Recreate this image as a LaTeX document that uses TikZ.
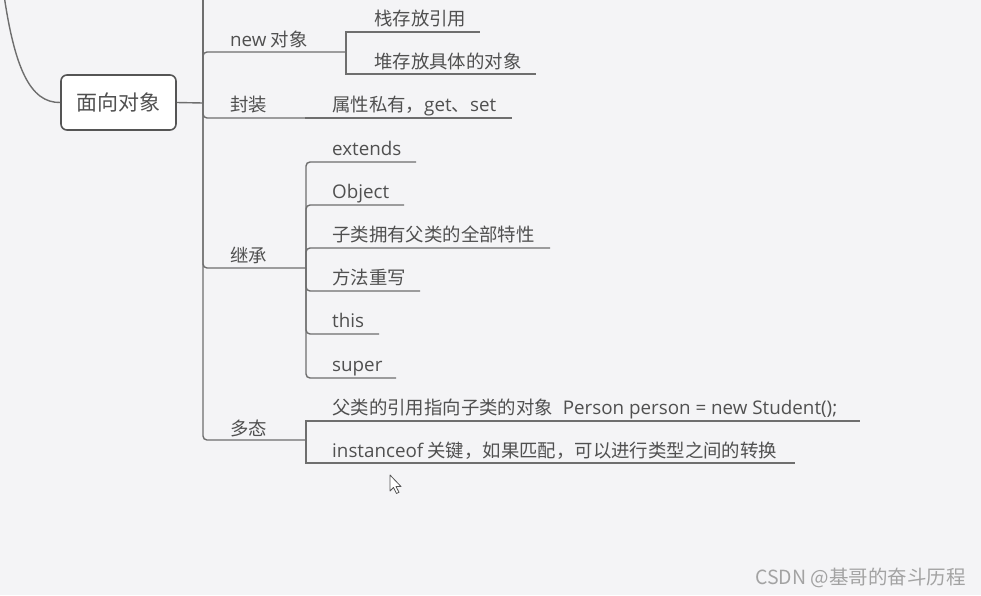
\documentclass[tikz,border=0pt]{standalone}
\usepackage{fontspec}
\setmainfont{Noto Sans CJK SC}
\newfontfamily\latf{Open Sans}
\newcommand{\lt}[1]{{\latf\fontsize{18.8}{20}\selectfont #1}}
\definecolor{bgc}{HTML}{F4F4F6}
\definecolor{linec}{HTML}{6E6E6E}
\definecolor{boxc}{HTML}{555555}
\definecolor{txtc}{HTML}{505050}
\definecolor{wmc}{HTML}{A3A3A3}
\begin{document}
\begin{tikzpicture}[x=1pt,y=-1pt,
  conn/.style={draw=linec, line width=1.4pt, rounded corners=4pt},
  sharpconn/.style={draw=linec, line width=1.4pt},
  lbl/.style={anchor=base west, inner sep=0pt, text=txtc, font=\fontsize{18.4}{20}\selectfont},
  rootbox/.style={draw=boxc, line width=1.6pt, fill=white, rounded corners=6pt,
    minimum width=115pt, minimum height=55pt, font=\fontsize{21}{24}\selectfont,
    text=txtc, inner sep=0pt},
  wm/.style={anchor=base west, inner sep=0pt, text=wmc, font=\fontsize{19.5}{21}\selectfont}]
\fill[bgc] (0,0) rectangle (981,595);
\useasboundingbox (0,0) rectangle (981,595);
\clip (0,0) rectangle (981,595);

% root
\node[rootbox] (root) at (118.5,102.5) {面向对象};
\coordinate (inc) at (3,-12);
\coordinate (J0) at (203,103);
\coordinate (up) at (203,-10);
\draw[sharpconn] (inc) .. controls (14,68) and (30,103) .. (root.west);
\draw[sharpconn] (root.east) -- (J0);
\draw[sharpconn] (J0) -- (up);

% new 对象
\node[lbl] (n1) at (230,46) {\lt{new} 对象};
\coordinate (n1e) at (346,52);
\draw[conn] (J0) |- (n1e);
\node[lbl] (c11) at (374,25) {栈存放引用};
\node[lbl] (c12) at (374,68) {堆存放具体的对象};
\coordinate (c11e) at (480,32);
\coordinate (c12e) at (536,74);
\draw[sharpconn] (n1e) |- (c11e);
\draw[sharpconn] (n1e) |- (c12e);

% 封装
\node[lbl] (f1) at (230,111) {封装};
\coordinate (f1e) at (305,118);
\draw[conn] (J0) |- (f1e);
\node[lbl] (f11) at (332,111) {属性私有，\lt{get}、\lt{set}};
\coordinate (f11e) at (512,118);
\draw[sharpconn] (f1e) -- (f11e);

% 继承
\node[lbl] (j1) at (230,262) {继承};
\coordinate (j1e) at (306,268);
\draw[conn] (J0) |- (j1e);
\node[lbl] (j11) at (332,155) {\lt{extends}};
\node[lbl] (j12) at (332,198) {\lt{Object}};
\node[lbl] (j13) at (332,241) {子类拥有父类的全部特性};
\node[lbl] (j14) at (332,284) {方法重写};
\node[lbl] (j15) at (332,327) {\lt{this}};
\node[lbl] (j16) at (332,371) {\lt{super}};
\coordinate (j11e) at (416,162);
\coordinate (j12e) at (404,205);
\coordinate (j13e) at (550,248);
\coordinate (j14e) at (420,291);
\coordinate (j15e) at (379,334);
\coordinate (j16e) at (396,378);
\foreach \e in {j11e,j12e,j13e,j14e,j15e,j16e}
  \draw[conn] (j1e) |- (\e);

% 多态
\node[lbl] (d1) at (230,435) {多态};
\coordinate (d1e) at (306,440);
\draw[conn] (J0) |- (d1e);
\node[lbl] (d11) at (332,414) {父类的引用指向子类的对象\lt{\ \ Person person = new Student();}};
\node[lbl] (d12) at (332,457) {\lt{instanceof} 关键，如果匹配，可以进行类型之间的转换};
\coordinate (d11e) at (860,421);
\coordinate (d12e) at (795,463);
\draw[sharpconn] (d1e) |- (d11e);
\draw[sharpconn] (d1e) |- (d12e);

% mouse cursor
\filldraw[fill=white, draw=boxc, line width=0.8pt, line join=round]
  (390,475) -- (390,491) -- (393.5,487.5) -- (396.5,493.5) -- (399,492.3)
  -- (396,486.5) -- (401,486.5) -- cycle;

% watermark
\node[wm] (wmk) at (755,584) {CSDN @基哥的奋斗历程};
\end{tikzpicture}
\end{document}
